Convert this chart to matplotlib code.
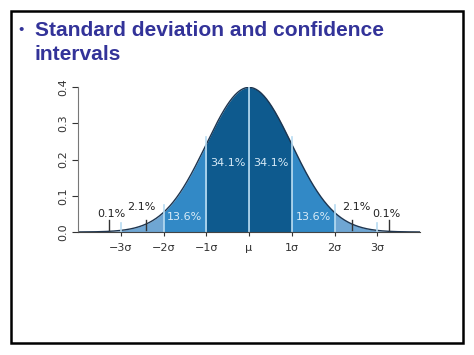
import numpy as np
import matplotlib.pyplot as plt
from matplotlib.patches import Rectangle

# band edges in units of sigma and their fill colours
band_edges = [-4, -3, -2, -1, 0, 1, 2, 3, 4]
band_colors = ['#a9c9e4', '#6fa6d3', '#3289c6', '#0e5a8e',
               '#0e5a8e', '#3289c6', '#6fa6d3', '#a9c9e4']

tick_pos = [-3, -2, -1, 0, 1, 2, 3]
tick_labels = ['\u22123\u03c3', '\u22122\u03c3', '\u22121\u03c3', '\u03bc',
               '1\u03c3', '2\u03c3', '3\u03c3']

title_lines = ['Standard deviation and confidence', 'intervals']

# labels inside the curve: (x, y, text)
inner_labels = [(-0.5, 0.19, '34.1%'), (0.5, 0.19, '34.1%'),
                (-1.5, 0.04, '13.6%'), (1.5, 0.04, '13.6%')]
# labels outside the curve with leader ticks: (text x, text y, tick x, text)
outer_labels = [(-2.52, 0.068, -2.42, '2.1%'), (2.52, 0.068, 2.42, '2.1%'),
                (-3.22, 0.05, -3.28, '0.1%'), (3.22, 0.05, 3.28, '0.1%')]


def pdf(x):
    return np.exp(-x ** 2 / 2) / np.sqrt(2 * np.pi)


fig = plt.figure(figsize=(4.74, 3.55), dpi=100)

# slide frame
fig.patches.append(Rectangle((11 / 474, 1 - 343 / 355), 452 / 474, 332 / 355,
                             transform=fig.transFigure, fill=False,
                             edgecolor='black', linewidth=1.8))
fig.text(18 / 474, 1 - 34 / 355, '\u2022', color='#333399', fontsize=11,
         family='Liberation Sans', va='baseline')
for k, line in enumerate(title_lines):
    fig.text(35 / 474, 1 - (36 + 24 * k) / 355, line, color='#333399',
             fontsize=15.1, fontweight='bold', family='Liberation Sans',
             va='baseline')

ax = fig.add_axes([78 / 474, 1 - 232 / 355, 342 / 474, 145 / 355])

for i in range(len(band_edges) - 1):
    xs = np.linspace(band_edges[i], band_edges[i + 1], 100)
    ax.fill_between(xs, 0, pdf(xs), color=band_colors[i], linewidth=0)

xs = np.linspace(-4, 4, 400)
ax.plot(xs, pdf(xs), color='#1d3550', linewidth=1.0)

for e in tick_pos:
    top = pdf(e) if e == 0 else pdf(e) + 0.02
    ax.plot([e, e], [0, top], color='#b8dcf2', linewidth=1.2)

for x, y, s in inner_labels:
    ax.text(x, y, s, color='#d8ebf7', fontsize=8, ha='center', va='center')

for x, y, tx, s in outer_labels:
    ax.text(x, y, s, color='#222222', fontsize=8, ha='center', va='center')
    ax.plot([tx, tx], [0.005, 0.032], color='#333333', linewidth=1.0)

ax.set_xlim(-4, 4)
ax.set_ylim(0, 0.4)
ax.set_xticks(tick_pos)
ax.set_xticklabels(tick_labels)
ax.set_yticks([0.0, 0.1, 0.2, 0.3, 0.4])
ax.set_yticklabels(['0.0', '0.1', '0.2', '0.3', '0.4'], rotation=90, va='center')
ax.tick_params(axis='both', labelsize=8, colors='#333333', length=4, width=0.8)
ax.tick_params(axis='x', length=3, pad=5)
ax.tick_params(axis='y', pad=3)
for side in ['top', 'right']:
    ax.spines[side].set_visible(False)
ax.spines['left'].set_color('#777777')
ax.spines['bottom'].set_color('#444444')
ax.patch.set_alpha(0)

fig.savefig('out.png', dpi=100)
